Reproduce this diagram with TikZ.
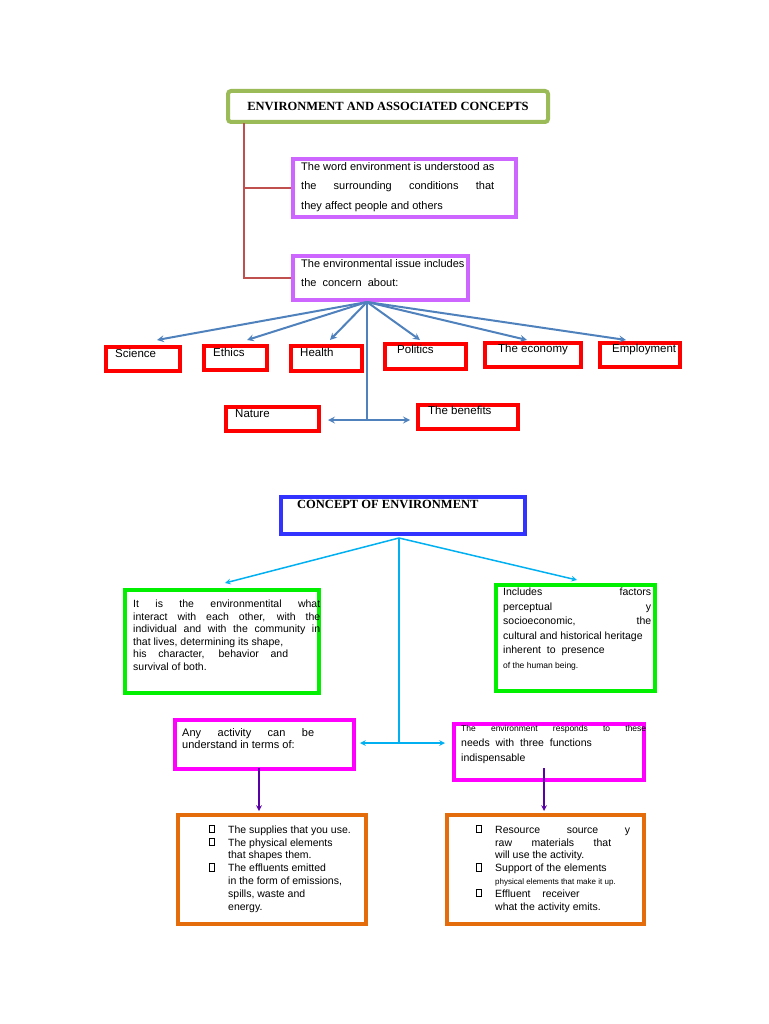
\documentclass[tikz,border=0pt]{standalone}
\usepackage{fontspec}
\setmainfont{Liberation Sans}
\newfontfamily\ttlfont{Liberation Serif}
\usetikzlibrary{positioning}
\newcommand{\jline}[2]{\makebox[#1][s]{#2}}
\newcommand{\bul}{\raisebox{1pt}{\framebox(5,7){}}}
\begin{document}
\begin{tikzpicture}[x=1pt, y=-1pt, >=stealth, font=\fontsize{11.5}{13}\selectfont,
    box/.style={draw=#1, line width=4pt, anchor=north west, inner sep=0pt},
    txt/.style={anchor=north west, align=left, inner sep=0pt},
    blu/.style={draw={rgb,255:red,79;green,129;blue,189}, line width=2pt},
    cyn/.style={draw={rgb,255:red,0;green,176;blue,240}, line width=1.5pt}]
    \useasboundingbox (0,0) rectangle (768,1024);
    \definecolor{olive}{RGB}{155,187,89}
    \definecolor{lilac}{RGB}{204,102,255}
    \definecolor{brick}{RGB}{192,80,77}
    \definecolor{bblue}{RGB}{51,51,255}
    \definecolor{lgreen}{RGB}{0,240,0}
    \definecolor{mag}{RGB}{255,0,255}
    \definecolor{orng}{RGB}{228,108,10}

    % upper chart
    \node[box=olive, rounded corners=3pt, minimum width=320pt, minimum height=31pt] (env) at (226,89) {};
    \node[font=\ttlfont\bfseries\fontsize{12.5}{14}\selectfont] at (env.center) {ENVIRONMENT AND ASSOCIATED CONCEPTS};
    \node[box=lilac, minimum width=223pt, minimum height=58pt] (word) at (291,157) {};
    \node[txt, font=\fontsize{11}{19.5}\selectfont] at ([shift={(10,5)}]word.north west)
        {The word environment is understood as\\ \jline{193pt}{the surrounding conditions that}\\they affect people and others};
    \node[box=lilac, minimum width=175pt, minimum height=44pt] (issue) at (291,254) {};
    \node[txt, font=\fontsize{11}{19.5}\selectfont] at ([shift={(10,5)}]issue.north west)
        {The environmental issue includes\\the\ \ concern\ \ about:};
    \coordinate (rt) at (244,123);
    \draw[brick, line width=2pt] (rt) |- (issue.west) (rt |- word.west) -- (word.west);

    \node[box=red, minimum width=74pt, minimum height=24pt] (sci) at (104,345) {};
    \node[box=red, minimum width=63pt, minimum height=24pt] (eth) at (202,344) {};
    \node[box=red, minimum width=71pt, minimum height=25pt] (hea) at (289,344) {};
    \node[box=red, minimum width=81pt, minimum height=25pt] (pol) at (383,342) {};
    \node[box=red, minimum width=96pt, minimum height=24pt] (eco) at (483,341) {};
    \node[box=red, minimum width=80pt, minimum height=24pt] (emp) at (598,341) {};
    \node[box=red, minimum width=93pt, minimum height=24pt] (nat) at (224,405) {};
    \node[box=red, minimum width=100pt, minimum height=24pt] (ben) at (416,403) {};
    \node[txt] at ([shift={(11,4)}]sci.north west) {Science};
    \node[txt] at ([shift={(11,4)}]eth.north west) {Ethics};
    \node[txt] at ([shift={(11,4)}]hea.north west) {Health};
    \node[txt] at ([shift={(14,3)}]pol.north west) {Politics};
    \node[txt] at ([shift={(15,3)}]eco.north west) {The economy};
    \node[txt] at ([shift={(14,3)}]emp.north west) {Employment};
    \node[txt] at ([shift={(11,4)}]nat.north west) {Nature};
    \node[txt] at ([shift={(12,3)}]ben.north west) {The benefits};

    \coordinate (hub) at (367,302);
    \foreach \b/\x in {sci/157, eth/247, hea/330, pol/420, eco/527, emp/626}
        \draw[blu, ->] (hub) -- (\x,340);
    \coordinate (low) at (367,420);
    \draw[blu] (hub) -- (low);
    \draw[blu, <->] (328,420) -- (410,420);

    % lower chart
    \node[box=bblue, minimum width=244pt, minimum height=37pt] (con) at (279,495) {};
    \node[txt, font=\ttlfont\bfseries\fontsize{12.5}{14}\selectfont] at (297,500) {CONCEPT OF ENVIRONMENT};
    \node[box=lgreen, minimum width=194pt, minimum height=103pt] (gl) at (123,588) {};
    \node[txt, font=\fontsize{10.5}{12.5}\selectfont] at ([shift={(10,12)}]gl.north west)
        {\jline{187pt}{It is the environmentital what}\\\jline{187pt}{interact with each other, with the}\\\jline{187pt}{individual and with the community in}\\that lives, determining its shape,\\\jline{155pt}{his character, behavior and}\\survival of both.};
    \node[box=lgreen, minimum width=159pt, minimum height=106pt] (gr) at (494,583) {};
    \node[txt, font=\fontsize{10.5}{14.5}\selectfont] at ([shift={(9,5)}]gr.north west)
        {\jline{148pt}{Includes factors}\\\jline{148pt}{perceptual y}\\\jline{148pt}{socioeconomic, the}\\cultural and historical heritage\\inherent\ \ to\ \ presence\\{\fontsize{8.5}{10}\selectfont of the human being.}};
    \node[box=mag, minimum width=179pt, minimum height=49pt] (ml) at (173,718) {};
    \node[txt, font=\fontsize{11}{12.5}\selectfont] at ([shift={(9,10)}]ml.north west)
        {\jline{132pt}{Any activity can be}\\understand in terms of:};
    \node[box=mag, minimum width=190pt, minimum height=56pt] (mr) at (452,722) {};
    \node[txt, font=\fontsize{10.5}{15}\selectfont] at ([shift={(9,3)}]mr.north west)
        {\jline{185pt}{\fontsize{8.5}{10}\selectfont The environment responds to these}\\needs\ \ with\ \ three\ \ functions\\indispensable};
    \node[box=orng, minimum width=188pt, minimum height=109pt] (ol) at (176,813) {};
    \node[txt, font=\fontsize{10.5}{12.8}\selectfont] at ([shift={(33,12)}]ol.north west)
        {\bul\hspace{14pt}The supplies that you use.\\\bul\hspace{14pt}The physical elements\\\hspace{19pt}that shapes them.\\\bul\hspace{14pt}The effluents emitted\\\hspace{19pt}in the form of emissions,\\\hspace{19pt}spills, waste and\\\hspace{19pt}energy.};
    \node[box=orng, minimum width=197pt, minimum height=109pt] (or) at (445,813) {};
    \node[txt, font=\fontsize{10.5}{12.8}\selectfont] at ([shift={(31,12)}]or.north west)
        {\bul\hspace{14pt}\jline{135pt}{Resource source y}\\\hspace{19pt}\jline{116pt}{raw materials that}\\\hspace{19pt}will use the activity.\\\bul\hspace{14pt}Support of the elements\\\hspace{19pt}{\fontsize{8}{9}\selectfont physical elements that make it up.}\\\bul\hspace{14pt}Effluent\ \ \ \ receiver\\\hspace{19pt}what the activity emits.};

    \coordinate (chub) at (399,538);
    \coordinate (clow) at (399,742);
    \draw[cyn, ->] (chub) -- (225,583);
    \draw[cyn, ->] (chub) -- (577,580);
    \draw[cyn] (chub) -- (clow);
    \draw[cyn, <->] (360,743) -- (445,743);
    \draw[violet!70!blue, line width=1.5pt, ->] (259,768) -- (259,811);
    \draw[violet!70!blue, line width=1.5pt, ->] (544,768) -- (544,811);
\end{tikzpicture}
\end{document}
